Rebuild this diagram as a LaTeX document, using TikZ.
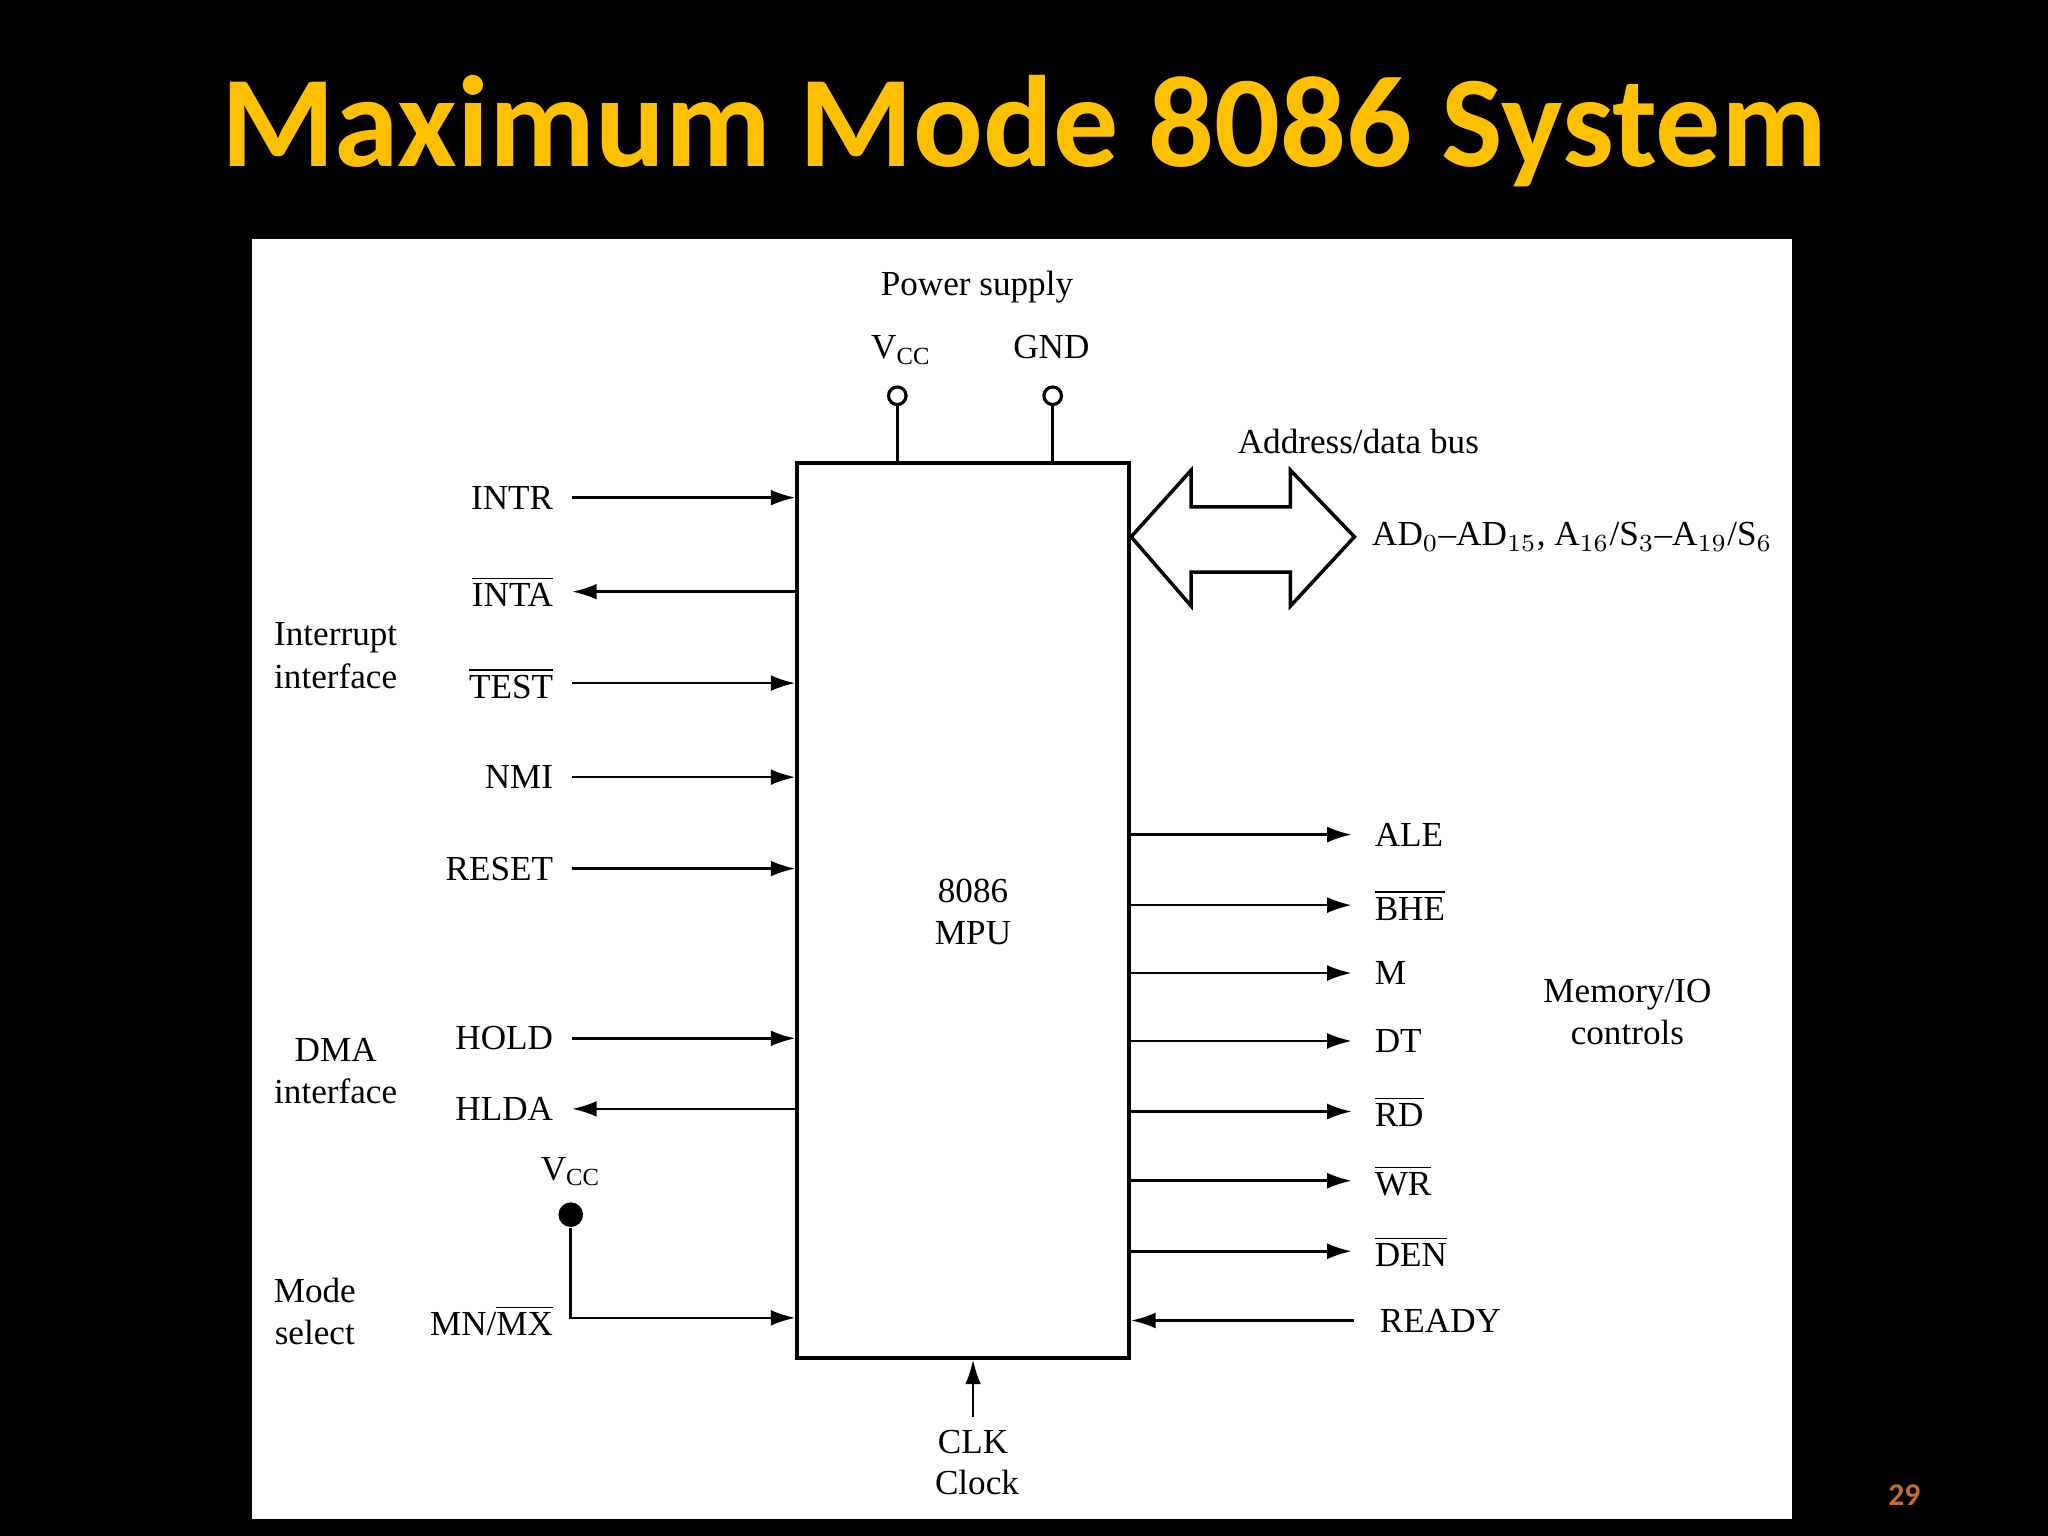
\documentclass[tikz,border=0pt]{standalone}
\usepackage{fontspec}
\setmainfont{Liberation Serif}
\newfontfamily\titlefont{Carlito}
\usetikzlibrary{arrows.meta}
\definecolor{ttl}{HTML}{FFC000}
\definecolor{pg}{HTML}{C0702A}
\newcommand{\ovl}[1]{$\overline{\mbox{#1}}$}
\begin{document}
\begin{tikzpicture}[x=0.013061cm,y=-0.013061cm,
  sig/.style={line width=0.75pt,-{Latex[length=7pt,width=4.5pt]}},
  lbl/.style={font=\fontsize{10}{12}\selectfont,inner sep=0pt},
  ll/.style={lbl,anchor=east},
  rl/.style={lbl,anchor=west}]
\fill[black] (0,0) rectangle (1568,1176);
\useasboundingbox (0,0) rectangle (1568,1176);
\node[font=\titlefont\bfseries\fontsize{37}{40}\selectfont,text=ttl] (title) at (784,100) {Maximum Mode 8086 System};
\node[font=\titlefont\bfseries\fontsize{9}{10}\selectfont,text=pg] (page) at (1458,1145) {29};
\fill[white] (193,183) rectangle (1372,1163);
% MPU box
\node[draw,line width=1pt,minimum width=254\pgflinewidth,inner sep=0pt,
  minimum width=3.32cm,minimum height=8.95cm,anchor=north west] (mpu) at (609,353) {};
\node[lbl,align=center] (mpulbl) at (745,698) {8086\\MPU};
% power
\node[lbl] (ps) at (748,220) {Power supply};
\node[lbl] (vcc) at (690,268) {V$_{\mathrm{CC}}$};
\node[lbl] (gnd) at (805,266) {GND};
\node[draw,circle,line width=0.9pt,inner sep=0pt,minimum size=5pt,fill=white] (pv) at (687,303) {};
\node[draw,circle,line width=0.9pt,inner sep=0pt,minimum size=5pt,fill=white] (pg) at (806,303) {};
\draw[line width=0.9pt] (pv.south) -- (pv.south |- mpu.north);
\draw[line width=0.9pt] (pg.south) -- (pg.south |- mpu.north);
% bus arrow
\draw[line width=1pt,fill=white] (866,411) -- (912,360) -- (912,388) -- (988,388) -- (988,360) -- (1037,411)
  -- (988,464) -- (988,438) -- (912,438) -- (912,464) -- cycle;
\node[lbl] (adb) at (1040,338) {Address/data bus};
\node[rl] (ad) at (1050,411) {AD$_0$--AD$_{15}$, A$_{16}$/S$_3$--A$_{19}$/S$_6$};
% left signals
\foreach \n/\y/\t in {intr/381/INTR,test/523/\ovl{TEST},nmi/595/NMI,reset/665/RESET,hold/795/HOLD}{
  \node[ll] (\n) at (424,\y) {\t};
  \coordinate (\n a) at (438,\y);
  \draw[sig] (\n a) -- (\n a -| mpu.west);
}
\foreach \n/\y/\t in {inta/453/\ovl{INTA},hlda/849/HLDA}{
  \node[ll] (\n) at (424,\y) {\t};
  \coordinate (\n a) at (438,\y);
  \draw[sig] (\n a -| mpu.west) -- (\n a);
}
\node[ll] (mnmx) at (424,1011) {MN/\ovl{MX}};
\node[lbl] (vcc2) at (437,897) {V$_{\mathrm{CC}}$};
\node[circle,fill=black,inner sep=0pt,minimum size=7pt] (vdot) at (437,930) {};
\draw[sig] (vdot) |- (609,1009);
% right signals
\foreach \n/\y/\t in {ale/639/ALE,bhe/693/\ovl{BHE}/S$_7$,mio/745/M/\ovl{IO},dtr/797/DT/\ovl{R},rd/851/\ovl{RD},wr/904/\ovl{WR},den/958/\ovl{DEN}}{
  \node[rl] (\n) at (1052,\y) {\t};
  \coordinate (\n a) at (1035,\y);
  \draw[sig] (\n a -| mpu.east) -- (\n a);
}
\node[rl] (ready) at (1056,1011) {READY};
\coordinate (readya) at (1037,1011);
\draw[sig] (readya) -- (readya -| mpu.east);
% group labels
\node[lbl,align=center] (ii) at (257,502) {Interrupt\\interface};
\node[lbl,align=center] (dma) at (257,820) {DMA\\interface};
\node[lbl,align=center] (ms) at (241,1004) {Mode\\select};
\node[lbl,align=center] (mio2) at (1246,775) {Memory/IO\\controls};
% clock
\node[lbl] (clk) at (745,1104) {CLK};
\node[lbl] (clock) at (748,1135) {Clock};
\coordinate (clka) at (745,1085);
\draw[sig] (clka) -- (clka |- mpu.south);
\end{tikzpicture}
\end{document}
